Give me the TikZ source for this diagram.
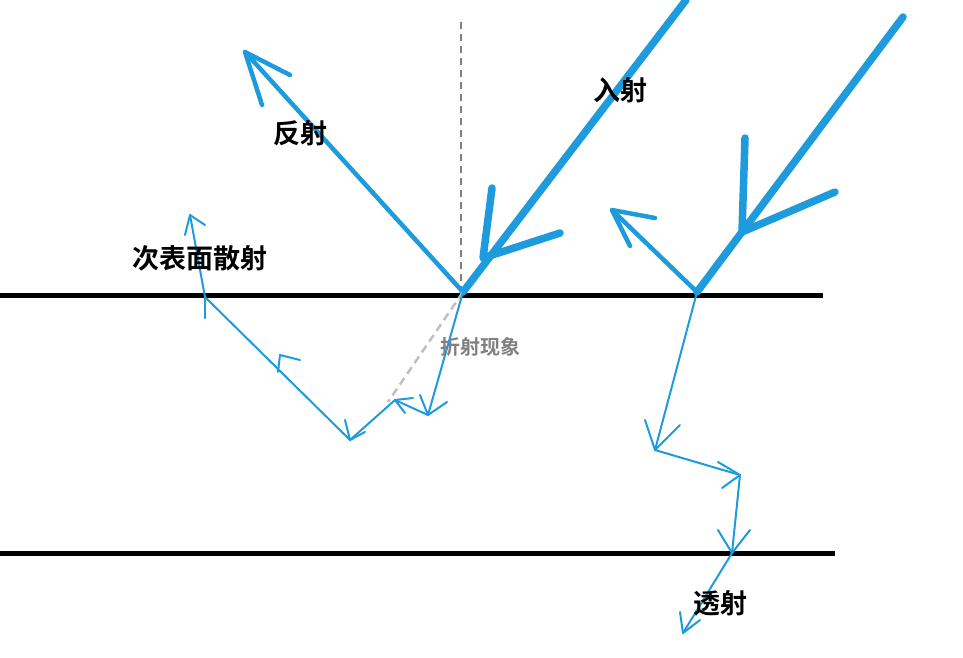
\documentclass[tikz,border=0pt]{standalone}
\usepackage{fontspec}
\newfontfamily\cjk{Noto Sans CJK SC}[BoldFont={Noto Sans CJK SC Bold}]
\definecolor{ray}{HTML}{1E9BDC}
\begin{document}
\begin{tikzpicture}[x=1pt,y=-1pt,line cap=round,line join=round,
  thick ray/.style={ray,line width=7.5pt},
  mid ray/.style={ray,line width=4.5pt},
  thin ray/.style={ray,line width=2pt},
  lbl/.style={font=\cjk\bfseries\fontsize{27}{27}\selectfont,inner sep=0pt}]
\useasboundingbox (0,0) rectangle (963,657);
\draw[line width=5pt,line cap=butt] (0,295) -- (823,295);
\draw[line width=5pt,line cap=butt] (0,553) -- (835,553);
\draw[gray,dash pattern=on 7pt off 5pt,line width=2.5pt,line cap=butt] (461,22) -- (461,290);
\coordinate (p1) at (463,292); \coordinate (p2) at (697,292); \coordinate (s) at (205,297);
% incident
\draw[thick ray] (686,0) -- (p1);
\draw[thick ray] (492,188) -- (483,258) -- (560,233);
\draw[thick ray] (903,17) -- (p2);
\draw[thick ray] (745,138) -- (742,232) -- (835,192);
% reflected
\draw[mid ray] (p1) -- (245,52) coordinate (r1);
\draw[mid ray] (262,105) -- (r1) -- (290,75);
\draw[mid ray] (p2) -- (612,210) coordinate (r2);
\draw[mid ray] (630,246) -- (r2) -- (655,218);
% refraction
\draw[lightgray,dash pattern=on 8pt off 5pt,line width=2.5pt,line cap=butt] (p1) -- (388,402);
\coordinate (a) at (428,415); \coordinate (b) at (395,400); \coordinate (c) at (350,440);
\draw[thin ray] (p1) -- (a) -- (b) -- (c) -- (s) -- (190,215) coordinate (t);
\draw[thin ray] (420,395) -- (a) -- (447,402);
\draw[thin ray] (405,413) -- (b) -- (413,398);
\draw[thin ray] (345,420) -- (c) -- (365,432);
\draw[thin ray] (278,372) -- (280,355) -- (300,360);
\draw[thin ray] (185,235) -- (t) -- (205,225);
\draw[thin ray] (s) -- (205,318);
% transmission
\coordinate (d) at (655,450); \coordinate (e) at (740,475); \coordinate (f) at (732,553); \coordinate (g) at (683,633);
\draw[thin ray] (p2) -- (d) -- (e) -- (f) -- (g);
\draw[thin ray] (645,420) -- (d) -- (680,425);
\draw[thin ray] (718,462) -- (e) -- (722,488);
\draw[thin ray] (718,530) -- (f) -- (750,530);
\draw[thin ray] (680,612) -- (g) -- (700,620);
% labels
\node[lbl] (l1) at (300,133) {反射};
\node[lbl] (l2) at (620,90) {入射};
\node[lbl] (l3) at (200,258) {次表面散射};
\node[lbl] (l4) at (720,603) {透射};
\node[lbl,gray,font=\cjk\bfseries\fontsize{20}{20}\selectfont] (l5) at (480,347) {折射现象};
\end{tikzpicture}
\end{document}
